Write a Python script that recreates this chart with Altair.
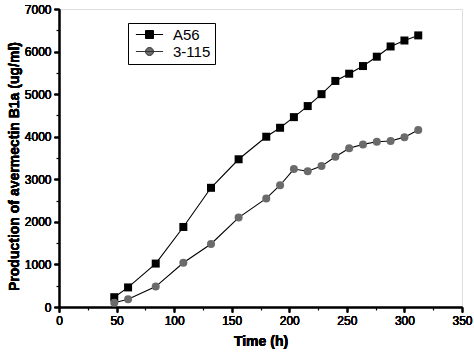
import altair as alt
import pandas as pd

times = [48, 60, 84, 108, 132, 156, 180, 192, 204, 216, 228, 240, 252, 264, 276, 288, 300, 312]
a56 = [230, 460, 1020, 1880, 2800, 3470, 4000, 4210, 4460, 4720, 5000, 5310, 5480, 5660, 5880, 6120, 6260, 6380]
s3115 = [100, 180, 480, 1040, 1480, 2100, 2550, 2860, 3240, 3190, 3310, 3530, 3730, 3820, 3880, 3900, 3990, 4160]
series_names = ["A56", "3-115"]
x_ticks = [0, 50, 100, 150, 200, 250, 300, 350]
x_minor = [25, 75, 125, 175, 225, 275, 325]
y_ticks = [0, 1000, 2000, 3000, 4000, 5000, 6000, 7000]
y_minor = [500, 1500, 2500, 3500, 4500, 5500, 6500]

df = pd.DataFrame({
    "t": times * 2,
    "v": a56 + s3115,
    "series": ["A56"] * len(times) + ["3-115"] * len(times),
})

FONT = "Liberation Sans"
xscale = alt.Scale(domain=[0, 350], nice=False)
yscale = alt.Scale(domain=[0, 7000], nice=False)

axis_common = dict(
    grid=False, domainColor="black", domainWidth=1.5, tickColor="black",
    tickWidth=1.5, tickSize=5, labelFont=FONT, labelFontSize=12, labelColor="black",
    titleFont=FONT, titleFontSize=14, titleFontWeight="bold", titleColor="black",
    format="d",
)

xaxis = alt.Axis(values=x_ticks, orient="bottom", labelPadding=3, title="Time (h)",
                 titlePadding=8, labelFlush=False, labelOverlap=False, **axis_common)
yaxis = alt.Axis(values=y_ticks, orient="left", labelPadding=3,
                 title="Production of avermectin B1a (ug/ml)", titlePadding=3, titleY=157,
                 labelFlush=False, labelOverlap=False, **axis_common)

base = alt.Chart(df)

def data_layers(name, shape, fill, size):
    sub = base.transform_filter(alt.datum.series == name)
    line = sub.mark_line(color="black", strokeWidth=1.1).encode(
        x=alt.X("t:Q", scale=xscale, axis=xaxis),
        y=alt.Y("v:Q", scale=yscale, axis=yaxis),
    )
    pts = sub.mark_point(filled=True, shape=shape, size=size, color=fill, opacity=1).encode(
        x=alt.X("t:Q", scale=xscale, axis=xaxis),
        y=alt.Y("v:Q", scale=yscale, axis=yaxis),
    )
    return [line, pts]

layers = data_layers("A56", "square", "black", 64) + data_layers("3-115", "circle", "#6b6b6b", 64)

minor_x = base.mark_point(opacity=0).encode(
    x=alt.X("t:Q", scale=xscale, axis=alt.Axis(values=x_minor, orient="bottom", labels=False,
            domain=False, grid=False, tickColor="black", tickWidth=1.2, tickSize=3, title=None)),
)
minor_y = base.mark_point(opacity=0).encode(
    y=alt.Y("v:Q", scale=yscale, axis=alt.Axis(values=y_minor, orient="left", labels=False,
            domain=False, grid=False, tickColor="black", tickWidth=1.2, tickSize=3, title=None)),
)

sq_path = "M-3.4,0H3.4M-1,-1H1V1H-1Z"
ci_path = "M-3.4,0H3.4M-1,0A1,1 0 1,0 1,0A1,1 0 1,0 -1,0Z"

leg = alt.Legend(title=None, orient="none", legendX=69, legendY=14,
                 labelFont=FONT, labelFontSize=15, labelColor="black",
                 strokeColor="black", fillColor="white", padding=4,
                 symbolSize=64, symbolOffset=10, labelOffset=16,
                 rowPadding=1, symbolStrokeWidth=1, symbolOpacity=1)

legend_layer = base.transform_filter("datum.t < 0").mark_point(
    filled=True, size=64, opacity=1, strokeWidth=1).encode(
    x=alt.X("t:Q", scale=xscale, axis=xaxis),
    y=alt.Y("v:Q", scale=yscale, axis=yaxis),
    shape=alt.Shape("series:N", scale=alt.Scale(domain=series_names, range=[sq_path, ci_path]),
                    legend=leg),
    fill=alt.Fill("series:N", scale=alt.Scale(domain=series_names, range=["black", "#6b6b6b"]),
                  legend=leg),
    stroke=alt.Stroke("series:N", scale=alt.Scale(domain=series_names, range=["black", "#333333"]),
                      legend=leg),
)

chart = alt.layer(*layers, legend_layer, minor_x, minor_y).resolve_axis(
    x="independent", y="independent"
).properties(
    width=403, height=298,
    padding={"left": 59, "top": 9, "right": 12, "bottom": 47},
    autosize=alt.AutoSizeParams(type="none"),
).configure_view(stroke=None).configure(background="white")

chart.save("out.html", embed_options={"renderer": "svg", "actions": False})
